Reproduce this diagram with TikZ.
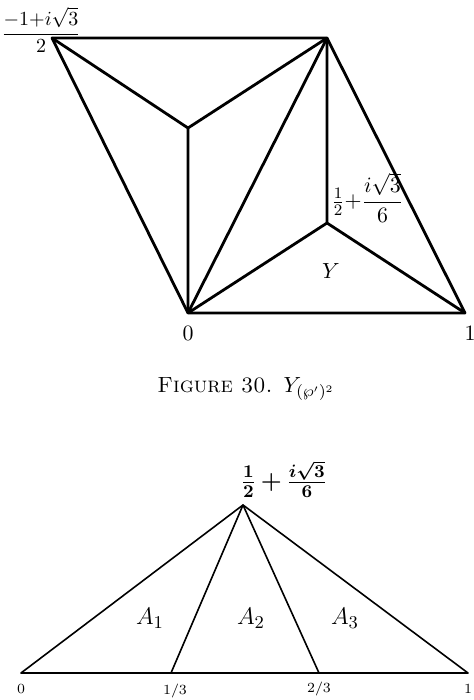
\documentclass[tikz,border=0pt]{standalone}
\usepackage{amsmath}
\usepackage{amssymb}
\usetikzlibrary{positioning}

\begin{document}
\begin{tikzpicture}[
    x = 0.5pt, y = -0.5pt,
    every node/.style = {font=\fontsize{11}{13}\selectfont, text=black, inner sep=1pt},
    bold edge/.style = {draw, line width=1.4pt, line join=round},
    thin edge/.style = {draw, line width=0.8pt, line join=round},
    area/.style = {font=\fontsize{13}{15}\selectfont},
    tick/.style = {font=\scriptsize, inner sep=0.5pt}]
  \useasboundingbox (0,0) rectangle (474,700);

  % upper picture: the parallelogram cut into six triangles
  \coordinate (o)  at (188,313);
  \coordinate (p1) at (465,313);
  \coordinate (pw) at (52,38);
  \coordinate (pv) at (327,38);
  \coordinate (cl) at (327,223);
  \coordinate (cu) at (188,128);

  \draw[bold edge] (o) -- (p1) -- (pv) -- (pw) -- cycle;
  \draw[bold edge] (o) -- (pv);
  \draw[bold edge] (cu) -- (o)  (cu) -- (pw)  (cu) -- (pv);
  \draw[bold edge] (cl) -- (o)  (cl) -- (p1)  (cl) -- (pv);

  \node (lo) [below = 5.5pt of o] {$0$};
  \node (l1) [below = 5.5pt of p1, xshift=2.5pt] {$1$};
  \node (lw) [font=\fontsize{10}{12}\selectfont, inner sep=0pt] at (41,30)
    {$\dfrac{-1{+}i\sqrt{3}}{2}$};
  \node (lc) [right = 1pt of cl, anchor=south west, yshift=-1pt] {$\frac{1}{2}{+}\dfrac{i\sqrt{3}}{6}$};
  \node (ly) at (331,271) {$Y$};

  \node (cap) at (246,389) {\textsc{Figure 30.}\enspace$Y_{(\wp')^2}$};

  % lower picture: the triangle A1 A2 A3
  \coordinate (b0) at (21,673);
  \coordinate (b1) at (171,673);
  \coordinate (b2) at (319,673);
  \coordinate (b3) at (468,673);
  \coordinate (apex) at (243,505);

  \draw[thin edge] (b0) -- (b3) -- (apex) -- cycle;
  \draw[thin edge] (b1) -- (apex) -- (b2);

  \node (la) [font=\fontsize{12.5}{14}\selectfont] at (284,479)
    {$\boldsymbol{\frac{1}{2}\,{+}\,\frac{i\sqrt{3}}{6}}$};
  \node (a1) [area] at (150,618) {$A_1$};
  \node (a2) [area] at (251,618) {$A_2$};
  \node (a3) [area] at (345,618) {$A_3$};

  \node (t0) [tick, below = 5pt of b0] {0};
  \node (t1) [tick, below = 5pt of b1, xshift=2pt] {1/3};
  \node (t2) [tick, below = 4pt of b2] {2/3};
  \node (t3) [tick, below = 5pt of b3] {1};
\end{tikzpicture}
\end{document}
